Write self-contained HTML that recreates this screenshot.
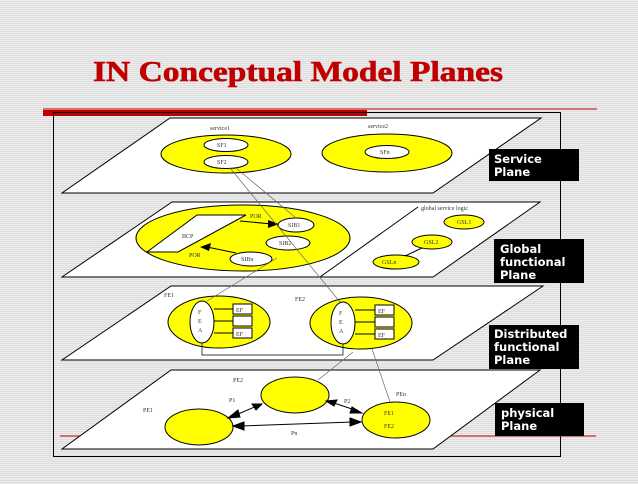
<!DOCTYPE html>
<html><head><style>
html,body{margin:0;padding:0}
body{width:638px;height:479px;overflow:hidden;background:repeating-linear-gradient(#ececec 0,#ececec 1px,#dedede 1px,#dedede 2px);}
</style></head><body>
<svg width="638" height="479" viewBox="0 0 638 479" xmlns="http://www.w3.org/2000/svg" font-family="Liberation Serif, serif">
<text x="93" y="81" font-size="29" font-weight="bold" fill="#c00000" font-family="Liberation Serif, serif" textLength="410" lengthAdjust="spacingAndGlyphs" stroke="#c00000" stroke-width="0.6">IN Conceptual Model Planes</text>
<line x1="43" y1="109" x2="597" y2="109" stroke="#c00000" stroke-width="1"/>
<rect x="43" y="110" width="324" height="6" fill="#c00000"/>
<rect x="53.5" y="112.5" width="507" height="344" fill="none" stroke="#000" stroke-width="1"/>
<line x1="60" y1="436" x2="596" y2="436" stroke="#c00000" stroke-width="1"/>

<g fill="#fff" stroke="#000" stroke-width="1">
<polygon points="170,118 541,118 433,193 62,193"/>
<polygon points="172,202 540,202 433,277 62,277"/>
<polygon points="171,286 543,286 433,360 62,360"/>
<polygon points="171,370 540,370 433,449 62,449"/>
</g>

<g font-size="6" fill="#333">
<ellipse cx="226" cy="154" rx="65" ry="19" fill="#ffff00" stroke="#000"/>
<ellipse cx="226" cy="145" rx="22" ry="6.5" fill="#fff" stroke="#000"/>
<ellipse cx="226" cy="162" rx="22" ry="6.5" fill="#fff" stroke="#000"/>
<ellipse cx="387" cy="153" rx="65" ry="19" fill="#ffff00" stroke="#000"/>
<ellipse cx="387" cy="152" rx="22" ry="6.5" fill="#fff" stroke="#000"/>
<text x="210" y="130">service1</text><text x="368" y="128">service2</text>
<text x="217" y="147">SF1</text><text x="217" y="164">SF2</text><text x="380" y="154">SFn</text>

<ellipse cx="243" cy="238" rx="107" ry="33" fill="#ffff00" stroke="#000"/>
<line x1="320" y1="277" x2="418" y2="207" stroke="#000"/>
<polygon points="197,215 246,215 178,252 147,252" fill="#fff" stroke="#000"/>
<text x="182" y="238">BCP</text>
<ellipse cx="296" cy="225" rx="18" ry="7" fill="#fff" stroke="#000"/>
<ellipse cx="288" cy="243" rx="22" ry="7" fill="#fff" stroke="#000"/>
<ellipse cx="251" cy="259" rx="21" ry="7" fill="#fff" stroke="#000"/>
<text x="288" y="227">SIB1</text><text x="279" y="245">SIB2</text><text x="241" y="261">SIBn</text>
<line x1="240" y1="221" x2="272" y2="224" stroke="#000"/>
<polygon points="279,224 268,220 268,228" fill="#000"/>
<line x1="236" y1="253" x2="207" y2="247" stroke="#000"/>
<polygon points="200,247 211,243 209,251" fill="#000"/>
<text x="250" y="218">POR</text><text x="189" y="257">POR</text>
<ellipse cx="464" cy="222" rx="20" ry="7" fill="#ffff00" stroke="#000"/>
<ellipse cx="432" cy="242" rx="20" ry="7" fill="#ffff00" stroke="#000"/>
<ellipse cx="396" cy="262" rx="23" ry="7" fill="#ffff00" stroke="#000"/>
<line x1="405" y1="256" x2="422" y2="248" stroke="#000"/>
<text x="457" y="224">GSL1</text><text x="424" y="244">GSL2</text><text x="382" y="264">GSLn</text>
<text x="421" y="210">global service logic</text>

<text x="164" y="297">FE1</text><text x="295" y="301">FE2</text>
<ellipse cx="219" cy="322" rx="51" ry="26" fill="#ffff00" stroke="#000"/>
<ellipse cx="202" cy="322" rx="12" ry="21" fill="#fff" stroke="#000"/>
<ellipse cx="361" cy="323" rx="51" ry="26" fill="#ffff00" stroke="#000"/>
<ellipse cx="343" cy="323" rx="12" ry="21" fill="#fff" stroke="#000"/>
<g stroke="#000" fill="#fff">
<line x1="214" y1="309" x2="233" y2="309"/><line x1="214" y1="321" x2="233" y2="321"/><line x1="214" y1="333" x2="233" y2="333"/>
<rect x="233" y="304" width="19" height="10"/><rect x="233" y="316" width="19" height="10"/><rect x="233" y="328" width="19" height="10"/>
<line x1="355" y1="310" x2="375" y2="310"/><line x1="355" y1="322" x2="375" y2="322"/><line x1="355" y1="334" x2="375" y2="334"/>
<rect x="375" y="305" width="19" height="10"/><rect x="375" y="317" width="19" height="10"/><rect x="375" y="329" width="19" height="10"/>
<polyline points="202,343 202,355 343,355 343,344" fill="none" stroke-width="0.7"/>
</g>
<text x="198" y="314">F</text><text x="198" y="323">E</text><text x="198" y="332">A</text>
<text x="339" y="315">F</text><text x="339" y="324">E</text><text x="339" y="333">A</text>
<text x="236" y="312">EF</text><text x="236" y="336">EF</text>
<text x="378" y="313">EF</text><text x="378" y="337">EF</text>

<ellipse cx="295" cy="395" rx="34" ry="18" fill="#ffff00" stroke="#000"/>
<ellipse cx="199" cy="427" rx="34" ry="18" fill="#ffff00" stroke="#000"/>
<ellipse cx="396" cy="420" rx="34" ry="18" fill="#ffff00" stroke="#000"/>
<g stroke="#000" fill="#000">
<line x1="236" y1="415" x2="259" y2="405"/>
<polygon points="228,418 238,410 240,417"/><polygon points="262,404 252,404 256,410"/>
<line x1="334" y1="403" x2="355" y2="410"/>
<polygon points="326,401 337,400 334,406"/><polygon points="362,413 352,407 350,413"/>
<line x1="240" y1="426" x2="353" y2="422"/>
<polygon points="233,426 244,422 244,430"/><polygon points="361,422 350,418 350,426"/>
</g>
<text x="233" y="382">PE2</text><text x="229" y="402">P1</text><text x="143" y="412">PE1</text>
<text x="344" y="403">P2</text><text x="396" y="396">PEn</text><text x="384" y="415">FE1</text><text x="384" y="428">FE2</text>
<text x="291" y="435">Pn</text>
</g>

<g stroke="#666" stroke-width="0.7">
<line x1="230" y1="168" x2="340" y2="302"/>
<line x1="236" y1="168" x2="296" y2="218"/>
<line x1="207" y1="301" x2="277" y2="258"/>
<line x1="353" y1="352" x2="318" y2="380"/>
<line x1="372" y1="349" x2="390" y2="402"/>
</g>

<g font-family="DejaVu Sans, sans-serif" font-weight="bold" font-size="11.5" fill="#fff">
<rect x="489" y="149" width="90" height="32" fill="#000"/>
<text x="494" y="163">Service</text><text x="494" y="176">Plane</text>
<rect x="494" y="239" width="90" height="44" fill="#000"/>
<text x="500" y="253">Global</text><text x="500" y="266">functional</text><text x="500" y="279">Plane</text>
<rect x="489" y="325" width="90" height="44" fill="#000"/>
<text x="494" y="338">Distributed</text><text x="494" y="351">functional</text><text x="494" y="364">Plane</text>
<rect x="495" y="403" width="89" height="33" fill="#000"/>
<text x="501" y="417">physical</text><text x="501" y="430">Plane</text>
</g>
</svg>
</body></html>
